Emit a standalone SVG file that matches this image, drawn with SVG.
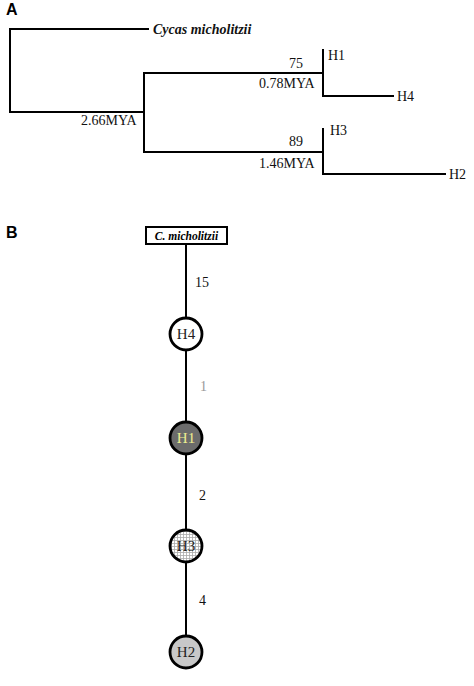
<svg xmlns="http://www.w3.org/2000/svg" width="474" height="686" viewBox="0 0 474 686">
<style>
.ln{stroke:#000;stroke-width:2;fill:none;stroke-linecap:square}
.t{font-family:"Liberation Serif",serif;font-size:14px;fill:#111}
.lbl{font-family:"Liberation Sans",sans-serif;font-weight:bold;font-size:16px;fill:#000}
.node{stroke:#000;stroke-width:2.8}
.nt{font-family:"Liberation Serif",serif;font-size:15px;text-anchor:middle}
</style>
<defs>
<pattern id="hatch" width="3" height="3" patternUnits="userSpaceOnUse">
<rect width="3" height="3" fill="#fff"/>
<path d="M0 0.5H3M0.5 0V3" stroke="#aaa" stroke-width="0.8"/>
</pattern>
</defs>
<rect width="474" height="686" fill="#fff"/>
<text class="lbl" x="6" y="15">A</text>
<text class="lbl" x="6" y="238">B</text>
<g id="tree-connectors">
<path class="ln" d="M148 29H10V112H144"/>
<path class="ln" d="M144 73V152"/>
<path class="ln" d="M144 73H323M323 50V96H393"/>
<path class="ln" d="M144 152H323M323 129V174H445"/>
</g>
<g id="tree-labels">
<text class="t" x="153" y="34" style="font-weight:bold;font-style:italic;font-size:14px">Cycas micholitzii</text>
<text class="t" x="328" y="60">H1</text>
<text class="t" x="397" y="101">H4</text>
<text class="t" x="330" y="135">H3</text>
<text class="t" x="449" y="179">H2</text>
<text class="t" x="289" y="68">75</text>
<text class="t" x="259" y="88">0.78MYA</text>
<text class="t" x="289" y="146">89</text>
<text class="t" x="259" y="168">1.46MYA</text>
<text class="t" x="81" y="125">2.66MYA</text>
</g>
<g id="connectors">
<line class="ln" x1="186" y1="244" x2="186" y2="636"/>
<text class="t" x="195" y="287">15</text>
<text class="t" x="200" y="391" style="fill:#999">1</text>
<text class="t" x="199" y="500">2</text>
<text class="t" x="199" y="605">4</text>
</g>
<g id="C-micholitzii">
<rect x="146" y="227" width="81" height="17" fill="#fff" stroke="#000" stroke-width="2"/>
<text x="186.5" y="240" text-anchor="middle" style="font-family:'Liberation Serif',serif;font-size:11.5px;font-weight:bold;font-style:italic">C. micholitzii</text>
</g>
<g id="H4">
<circle class="node" cx="186" cy="334" r="16" fill="#fff"/>
<text class="nt" x="186" y="339" fill="#222">H4</text>
</g>
<g id="H1">
<circle class="node" cx="186" cy="438" r="16" fill="#6b6b6b"/>
<text class="nt" x="186" y="443" fill="#eeee90">H1</text>
</g>
<g id="H3">
<circle class="node" cx="186" cy="546" r="16" fill="url(#hatch)"/>
<text class="nt" x="186" y="551" fill="#222">H3</text>
</g>
<g id="H2">
<circle class="node" cx="186" cy="652" r="16" fill="#c8c8c8"/>
<text class="nt" x="186" y="657" fill="#222">H2</text>
</g>
</svg>
